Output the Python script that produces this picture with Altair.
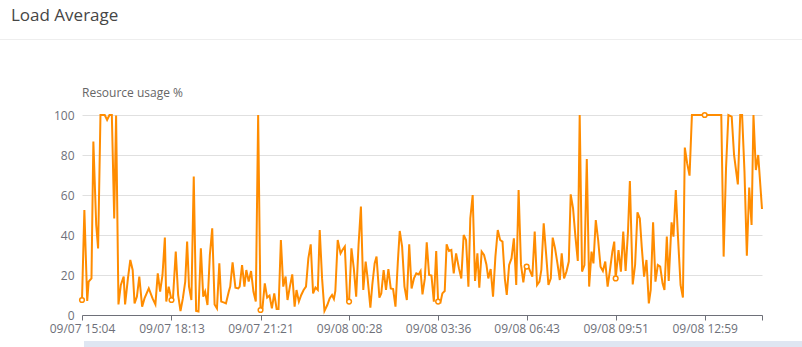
import altair as alt
import pandas as pd

# minutes after 09/07 15:04 and resource usage (%)
minutes = [0,5,11,14,20,24,30,34,39,48,53,58,63,68,72,77,82,88,91,97,102,107,111,116,121,127,132,141,149,155,160,165,170,175,178,183,189,192,198,203,208,213,218,222,226,231,236,241,246,251,256,260,265,270,275,280,285,290,294,299,304,310,313,318,324,330,333,338,343,347,352,357,362,367,372,377,381,386,391,396,401,406,411,415,420,425,430,434,439,444,449,453,458,463,468,473,478,483,488,493,498,502,507,512,518,523,528,532,535,540,546,550,555,560,564,569,574,579,584,589,594,599,603,609,613,618,622,628,632,637,642,647,652,657,662,667,671,676,681,686,691,696,701,706,711,715,719,724,728,733,738,743,748,752,757,761,766,770,775,780,785,790,796,801,806,811,816,820,825,830,835,839,844,849,854,858,863,868,873,878,883,888,893,897,902,907,912,917,922,927,932,936,939,944,951,956,961,966,970,975,980,985,990,994,999,1004,1009,1013,1018,1023,1028,1032,1037,1042,1047,1051,1056,1061,1066,1071,1076,1080,1085,1090,1095,1100,1105,1110,1115,1120,1124,1127,1133,1138,1143,1148,1153,1157,1163,1168,1173,1178,1182,1187,1192,1197,1201,1206,1211,1216,1221,1226,1230,1235,1239,1245,1249,1254,1258,1264,1269,1273,1278,1283,1288,1300,1315,1330,1350,1355,1360,1365,1372,1377,1382,1385,1390,1394,1399,1404,1409,1414,1418,1423,1428,1436]
usage = [7.5,52.5,7,16.7,18.3,86.7,45,33.3,100,100,97.5,100,100,48.3,99.7,5.3,15,19.2,5.3,18.3,27.5,22.5,5.8,9.2,19.2,4.2,8.3,13.3,8.3,5.3,20.8,11.7,20,38.7,6.7,14.2,7.5,8,31.7,10,2,8.3,16.7,36.7,14.2,7.5,69.2,2,1.7,33.3,9.2,11.7,5,30,43.3,5.3,3.3,25.8,6.7,6.3,5.8,11.7,14.2,26.3,13.7,13.3,14.2,25,14.2,22.5,16.7,22,11.7,6.7,100,2.5,3.3,15.8,8.7,9.7,3.3,10.8,3,3,37.5,14.2,19.2,7.5,14.2,20.3,4.2,12.5,6.7,10,12.5,14.2,28.3,35.3,10.8,13.7,12.5,42.5,18.3,2,5,8.3,10,8,12,37.5,30.8,32.5,34.2,7.5,6.7,33.3,23.3,9.2,35,54.2,12.5,26.7,18.7,3.7,15,25.8,29.2,8.7,10.8,22.5,12.5,23,13.3,13,4.2,26.7,42,34.2,14.2,7.5,35.3,13.3,18.3,20.8,20.3,22,10.3,18.3,36.3,20,19.7,6.7,32,6.7,6.3,10.8,12,35.3,32,32.5,20.8,30.8,23.3,18.3,40,37.5,14.2,48.3,60,17,30.8,13.7,31.7,30,25.3,18.3,23,9.2,29.2,42.5,37.5,36.7,18,10,25,28.3,38.3,15,62.5,25.3,16.3,23.3,24.2,23.3,19.2,41.7,15,16.7,22.5,45.8,30.8,15,18.3,38.7,33.3,25.8,17.5,30.8,18.3,21.7,26.7,60.3,53.3,39.2,27,100,21.7,25,78,14.2,31.7,25.8,47.5,37.5,24.2,22,26.7,14.2,22.5,31.7,36.7,18.3,32.5,21.7,41.7,22,41.7,67,15.3,25,51.3,48.3,34.2,19.2,27.5,5.8,12.5,46.3,16.7,25,24.2,15.8,12.5,39.2,17,46.3,39.2,62.5,41.7,15,8.7,83.7,75.8,69.7,100,100,100,100,100,29.2,73.3,100,99.2,80,70.8,65.3,100,100,71.7,29.7,63.7,45,100,72.5,80,53]

# axis label positions (minutes after start)
tick_offsets = [0, 189, 377, 564, 752, 939, 1127, 1315]
end_offset = 1436
y_ticks = [0, 20, 40, 60, 80, 100]

base = pd.Timestamp("2023-09-07 15:04")
df = pd.DataFrame({
    "time": base + pd.to_timedelta(minutes, unit="m"),
    "usage": usage,
    "offset": minutes,
})
marks_df = df[df["offset"].isin(tick_offsets)]


def dt(ts):
    return alt.DateTime(year=ts.year, month=ts.month, date=ts.day,
                        hours=ts.hour, minutes=ts.minute)


end_ts = base + pd.Timedelta(minutes=end_offset)
tick_vals = [dt(t) for t in base + pd.to_timedelta(tick_offsets, unit="m")] + [dt(end_ts)]
domain = [dt(base), dt(end_ts)]
end_ms = f"datetime({end_ts.year}, {end_ts.month - 1}, {end_ts.day}, {end_ts.hour}, {end_ts.minute})"

FONT = "Open Sans"
ORANGE = "#ff8c00"

x_enc = alt.X(
    "time:T",
    scale=alt.Scale(domain=domain),
    axis=alt.Axis(values=tick_vals,
                  labelExpr=f"datum.value >= {end_ms} ? '' : timeFormat(datum.value, '%m/%d %H:%M')",
                  labelFlush=False,
                  labelOverlap=False, grid=False, domainColor="#6E7079",
                  tickColor="#6E7079", tickSize=5, labelColor="#6E7079",
                  tickCount=20,
                  labelFontSize=12, labelFont=FONT, labelPadding=3, title=None),
)
y_enc = alt.Y(
    "usage:Q",
    scale=alt.Scale(domain=[0, 100], nice=False),
    axis=alt.Axis(values=y_ticks, tickCount=10, grid=True, gridColor="#e0e0e0",
                  domain=False, ticks=False, labelPadding=8, labelColor="#6E7079",
                  labelOverlap=False, labelFlush=False,
                  labelFontSize=12, labelFont=FONT, title=None),
)

line = alt.Chart(df).mark_line(color=ORANGE, strokeWidth=2).encode(x=x_enc, y=y_enc)
pts = alt.Chart(marks_df).mark_point(
    shape="circle", filled=True, fill="white", stroke=ORANGE, strokeWidth=1.5,
    size=22, opacity=1
).encode(x="time:T", y="usage:Q")

title = alt.Chart(pd.DataFrame({"t": ["Load Average"]})).mark_text(
    align="left", baseline="alphabetic", font=FONT, fontSize=17, color="#464646"
).encode(text="t:N", x=alt.value(-71), y=alt.value(-94))

sep = alt.Chart(pd.DataFrame({"a": [0]})).mark_rule(color="#eeeeee", strokeWidth=1).encode(
    x=alt.value(-82), x2=alt.value(720), y=alt.value(-75.5)
)

ylabel = alt.Chart(pd.DataFrame({"t": ["Resource usage %"]})).mark_text(
    align="left", baseline="middle", font=FONT, fontSize=12, color="#666666"
).encode(text="t:N", x=alt.value(0), y=alt.value(-22))

slider = alt.Chart(pd.DataFrame({"a": [0]})).mark_rect(color="#dfe6f2").encode(
    x=alt.value(2), x2=alt.value(722), y=alt.value(226), y2=alt.value(236)
)

chart = alt.layer(sep, title, ylabel, slider, line, pts).properties(
    width=680, height=200,
    autosize=alt.AutoSizeParams(type="none"),
    padding={"left": 82, "top": 115, "right": 40, "bottom": 32},
    background="white",
).configure_view(stroke=None)

chart.save("out.html", embed_options={"renderer": "svg", "actions": False})
